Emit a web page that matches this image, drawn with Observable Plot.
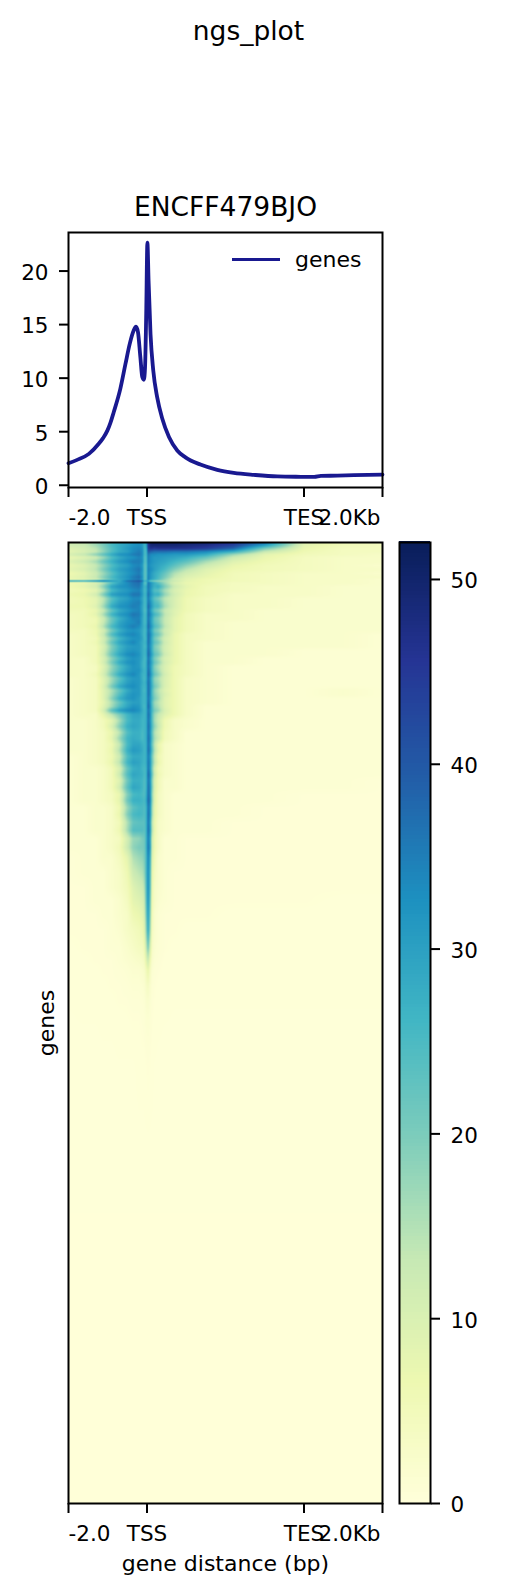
<!DOCTYPE html>
<html>
<head>
<meta charset="utf-8">
<script src="https://cdn.jsdelivr.net/npm/d3@7"></script>
<script src="https://cdn.jsdelivr.net/npm/@observablehq/plot@0.6"></script>
<style>
html,body{margin:0;padding:0;background:#fff;}
#page{position:relative;width:529px;height:1594px;overflow:hidden;font-family:"DejaVu Sans",sans-serif;color:#000;}
#page>div{position:absolute;}
svg{display:block;overflow:visible;}
</style>
</head>
<body>
<div id="page"></div>
<script>
// Profile panel
const profileX = [-2,-1.78,-1.48,-1.23,-1.12,-1.01,-0.93,-0.85,-0.68,-0.55,-0.44,-0.34,-0.28,-0.23,-0.17,-0.12,-0.08,-0.05,-0.02,0.01,0.04,0.09,0.16,0.26,0.39,0.56,0.77,0.98,1.36,1.79,2.21,2.72,3.32,3.92,4.26,4.43,4.85,5.27,6];
const profileY = [2.06,2.37,2.93,3.87,4.4,5.1,5.85,6.8,9.0,11.3,13.2,14.45,14.8,14.3,12,10.1,9.85,11,16,22.65,19.1,14.1,10.7,8.2,6.2,4.5,3.25,2.6,1.93,1.44,1.16,0.97,0.82,0.79,0.78,0.87,0.9,0.95,1.0];
const profileTicks = [0,5,10,15,20];
const colorbarTicks = [0,10,20,30,40,50];
const tickTSS = 0, tickTES = 4, tickStart = -2, tickEnd = 6;

// Colour map
const colorStops = [0,6.5,13,19.5,26,32.5,39,45.5,52];
const colorRange = ["#ffffd9","#edf8b1","#c7e9b4","#7fcdbb","#41b6c4","#1d91c0","#225ea8","#253494","#081d58"];

// Heatmap: columns in kb from the TSS, rows by gene rank
const heatCols = [-2,-1.6,-1.3,-1.1,-0.9,-0.7,-0.5,-0.35,-0.2,-0.115,-0.065,-0.015,0.03,0.08,0.13,0.19,0.29,0.45,0.7,1,1.5,2.2,3,4,5,6];
const heatRowRanks = [0,3,6,9,12,15,19,23,27,31,35,36.8,38.5,40.2,44,48,52,56,60,64,68,72,76,80,84,88,92,96,100,104,108,112,116,120,124,128,132,136,140,144,148,152,156,160,164,168,172,178,184,190,196,202,208,214,220,226,232,238,245,252,258,265,272,280,288,296,305,315,330,345,358,372,388,405,418,428,443,458,473,488,505,525,600,961];
const heatRows = [
[12,13,17,21,25,28,30,32,33,32,27,30,46,49,50,50,50,50,50,50,49,46,36,9,5,4],
[11,12,16,20,25,28,30,32,33,31,26,29,45,48,49,49,49,49,49,48,47,43,30,8,5,4],
[9,11,14,19,24,28,31,33,34,32,25,27,44,46,46,45,46,46,46,46,44,38,20,7,4,4],
[8,10,13,18,24,28,30,33,35,33,25,26,40,39,38,37,37,37,36,36,34,28,13,6,4,4],
[10,13,18,23,28,32,33,35,36,33,25,26,36,34,33,33,32,32,31,31,28,17,8,5,4,3],
[7,9,12,17,24,28,31,32,34,32,24,25,35,33,32,31,31,30,29,27,22,12,7,4,3,3],
[9,12,16,22,27,31,33,35,35,33,24,25,35,33,32,31,30,29,26,23,16,9,6,4,3,3],
[7,9,13,18,24,28,30,33,34,31,23,24,34,32,31,30,29,27,23,18,12,7,5,4,3,2],
[8,10,14,20,26,30,32,34,36,32,23,24,35,33,32,30,28,25,19,14,9,6,5,4,3,3],
[6,8,12,17,23,28,31,33,35,31,23,24,34,32,30,28,26,22,15,11,8,5,4,3,3,2],
[7,9,13,19,25,29,32,35,37,32,23,24,35,32,30,28,25,20,13,9,7,5,4,3,3,3],
[6,8,11,17,23,28,31,34,35,31,23,24,35,31,29,27,24,18,11,8,6,5,4,3,3,2],
[28,26,30,33,30,28,36,38,40,36,26,28,30,24,22,20,18,16,12,8,6,5,4,3,3,2],
[6,7,10,15,23,29,33,36,37,32,23,24,36,33,30,27,23,17,10,7,6,4,4,3,3,2],
[6,8,11,19,29,32,33,35,36,31,26,28,36,33,30,27,28,20,12,8,5,4,3,3,2,2],
[5,6,8,15,25,29,31,33,34,30,25,27,35,32,28,24,23,16,10,7,5,4,3,3,2,2],
[6,7,11,20,30,32,33,36,36,31,26,28,37,33,30,27,27,18,11,7,5,3,3,3,2,2],
[5,6,8,14,23,28,30,33,33,29,25,27,35,31,27,23,20,14,10,6,4,3,3,2,2,2],
[5,6,8,15,25,30,32,34,35,30,25,27,36,33,29,25,23,15,10,6,4,3,3,2,2,2],
[6,6,9,17,28,32,33,35,34,29,25,27,38,34,30,26,25,16,10,6,4,3,3,2,2,2],
[5,5,7,13,22,28,31,33,34,29,24,26,36,32,27,22,19,13,9,6,4,3,2,2,2,2],
[4,5,8,16,26,31,33,36,35,30,25,27,37,34,30,26,23,14,9,5,3,3,2,2,2,2],
[4,5,6,12,21,27,31,34,34,29,25,27,36,32,28,22,19,13,8,5,3,3,2,2,2,2],
[4,5,6,13,22,29,32,33,35,29,25,27,37,33,28,23,20,13,8,5,3,2,2,2,2,2],
[4,5,7,15,25,30,33,35,33,29,26,28,38,34,30,25,22,14,8,5,3,2,2,2,2,2],
[4,4,6,11,20,27,31,32,31,28,25,27,36,32,27,21,18,12,8,5,3,2,2,2,2,2],
[3,4,6,13,24,30,33,34,32,28,25,28,37,34,29,24,21,13,7,4,3,2,2,2,2,1],
[3,4,5,11,19,26,30,32,32,29,25,27,37,33,27,21,17,11,7,4,3,2,2,2,2,1],
[3,4,6,12,22,29,32,34,31,28,26,28,37,33,28,23,20,12,7,4,2,2,2,2,2,1],
[3,4,5,10,19,26,30,31,31,28,25,27,36,32,27,20,17,11,7,4,2,2,2,2,2,1],
[3,4,5,11,20,27,31,32,31,28,26,28,37,33,27,21,18,11,7,4,2,2,2,1,1,1],
[3,4,5,12,22,29,33,34,32,28,26,28,38,34,29,23,20,12,7,4,2,2,2,1,1,1],
[3,3,5,10,18,25,30,32,31,28,25,27,36,32,26,20,16,10,7,4,2,2,1,1,1,1],
[3,3,5,11,20,28,32,33,31,27,25,28,37,33,28,22,18,11,7,4,2,2,1,1,1,1],
[3,3,4,9,17,24,29,32,31,27,25,28,36,32,26,19,15,10,6,4,2,1,1,1,1,1],
[3,3,4,10,18,25,30,32,32,28,26,28,37,33,26,20,16,10,6,4,2,1,1,1,1,1],
[3,3,5,11,20,28,32,34,31,27,26,28,38,34,28,22,18,11,6,4,2,1,1,1,1,1],
[2,3,4,9,16,23,29,31,31,27,25,28,36,32,25,18,15,10,6,3,2,1,1,1,1,1],
[2,3,4,9,17,25,30,32,31,28,26,29,37,33,26,19,16,10,6,3,2,1,1,1,1,1],
[2,3,4,10,20,28,32,33,31,27,26,28,37,33,27,21,17,10,6,3,2,1,1,1,1,1],
[2,3,4,9,15,22,28,31,31,27,25,28,37,33,25,18,14,9,6,3,2,1,1,1,2,1],
[2,3,4,9,16,24,30,32,31,27,26,28,37,33,25,19,15,10,6,3,2,1,1,1,2,1],
[2,3,4,9,18,27,31,32,30,27,26,28,36,32,26,20,16,9,6,3,2,1,1,1,1,1],
[2,3,4,8,15,22,28,30,30,27,26,28,37,32,24,17,14,9,6,3,2,1,1,1,1,1],
[2,3,4,9,16,24,29,32,31,27,25,28,38,33,25,18,15,9,6,3,1,1,1,1,1,1],
[2,3,4,11,23,30,33,34,32,28,26,28,36,32,26,20,17,10,6,3,1,1,1,1,1,1],
[2,3,3,8,14,20,26,29,29,27,26,28,37,33,24,17,13,9,6,3,1,1,1,1,1,1],
[2,2,3,5,8,16,25,28,28,26,26,28,36,32,24,16,12,6,3,2,1,1,1,1,1,1],
[2,2,3,5,10,19,27,29,28,26,26,28,37,33,25,18,13,6,3,2,1,1,1,1,1,1],
[2,2,3,4,7,14,24,27,27,25,26,28,36,32,23,15,11,5,3,1,1,1,1,1,1,1],
[2,2,3,4,8,17,26,28,27,25,26,28,37,33,24,16,12,5,3,1,1,1,1,1,1,1],
[2,2,3,4,6,13,25,29,29,27,26,28,36,32,22,14,7,3,2,1,1,1,1,1,1,1],
[2,2,3,4,7,15,27,31,30,28,26,28,37,33,24,15,8,3,2,1,1,1,1,1,1,1],
[1,2,3,4,6,12,24,28,28,27,26,28,35,31,21,13,6,3,2,1,1,1,1,1,1,1],
[1,2,3,4,7,14,26,30,29,27,26,28,36,32,22,14,7,3,2,1,1,1,1,1,1,1],
[1,2,2,3,5,10,22,27,28,26,25,27,36,31,20,11,5,3,2,1,1,1,1,1,1,1],
[1,2,2,3,5,12,24,29,28,27,25,27,38,33,22,12,6,3,2,1,1,1,1,1,1,1],
[1,2,2,3,5,9,21,27,27,26,24,27,36,32,19,10,5,2,2,1,1,1,1,1,1,.5],
[1,2,2,3,5,11,23,29,28,26,24,27,37,33,20,10,5,2,2,1,1,1,1,1,1,.5],
[1,2,2,3,4,7,19,25,26,25,24,28,37,33,18,9,4,2,1,1,1,1,1,.5,.5,.5],
[1,2,2,3,4,8,21,27,27,26,25,29,38,34,19,9,4,2,1,1,1,1,1,.5,.5,.5],
[1,1,2,2,3,6,17,23,25,25,24,27,36,32,17,8,4,2,1,1,1,1,.5,.5,.5,.5],
[1,1,2,2,3,7,19,25,26,25,24,27,37,32,17,8,4,2,1,1,1,1,.5,.5,.5,.5],
[1,1,2,2,3,5,15,22,23,23,23,27,36,30,14,7,3,2,1,1,1,.5,.5,.5,.5,.5],
[1,1,2,2,3,6,16,24,24,24,23,27,37,31,15,7,3,2,1,1,1,.5,.5,.5,.5,.5],
[1,1,1,2,3,4,11,17,18,20,21,27,35,29,12,6,3,1,1,.5,.5,.5,.5,.5,.5,.5],
[1,1,1,2,3,5,12,18,20,20,21,27,36,30,12,6,3,1,1,.5,.5,.5,.5,.5,.5,.5],
[.5,1,1,2,2,4,8,15,17,18,20,26,34,27,10,5,2,1,1,.5,.5,.5,.5,.5,.5,.5],
[.5,1,1,1,2,3,6,12,14,15,18,26,33,25,8,4,2,1,.5,.5,.5,.5,.5,.5,.5,.5],
[.5,.5,1,1,2,3,5,9,11,12,15,25,33,24,7,3,2,1,.5,.5,.5,.5,.5,.5,.5,.5],
[.5,.5,1,1,1,2,4,8,9,10,13,24,32,22,6,3,1.5,1,.5,.5,.5,.5,.5,.5,.3,.3],
[.5,.5,.5,1,1,2,3,6,7,8,11,22,30,20,5,2,1,.5,.5,.5,.5,.3,.3,.3,.3,.3],
[.5,.5,.5,.5,1,1.5,3,4,5,6,9,19,28,17,4,2,1,.5,.5,.3,.3,.3,.3,.3,.3,.3],
[.3,.5,.5,.5,1,1,2,3,4,4,6,14,20,11,3,1.5,1,.5,.3,.3,.3,.3,.3,.3,.3,.3],
[.3,.3,.5,.5,.5,1,1.5,2,2.5,3,4,9,12,6,2,1,.7,.3,.3,.3,.3,.3,.3,.3,.3,.3],
[.3,.3,.3,.5,.5,.7,1,1.5,1.5,2,2.5,5,7,3.5,1.2,.7,.5,.3,.3,.3,.3,.3,.3,.3,.3,.3],
[.3,.3,.3,.3,.5,.5,.7,1,1,1.2,1.5,3,3.5,2,.8,.5,.3,.3,.3,.3,.3,.3,.3,.3,.3,.3],
[.3,.3,.3,.3,.3,.5,.5,.7,.7,.8,1,1.8,2,1.3,.6,.4,.3,.3,.3,.3,.3,.3,.3,.3,.3,.3],
[.2,.3,.3,.3,.3,.3,.4,.5,.5,.6,.7,1.2,1.3,.9,.5,.3,.3,.3,.2,.2,.2,.2,.2,.2,.2,.2],
[.2,.2,.2,.3,.3,.3,.3,.4,.4,.5,.6,.9,1,.7,.4,.3,.3,.2,.2,.2,.2,.2,.2,.2,.2,.2],
[.2,.2,.2,.2,.2,.3,.3,.3,.3,.4,.4,.6,.7,.5,.3,.3,.2,.2,.2,.2,.2,.2,.2,.2,.2,.2],
[.2,.2,.2,.2,.2,.2,.2,.2,.3,.3,.3,.4,.5,.4,.3,.2,.2,.2,.2,.2,.2,.2,.2,.2,.2,.2],
[.2,.2,.2,.2,.2,.2,.2,.2,.2,.2,.2,.2,.2,.2,.2,.2,.2,.2,.2,.2,.2,.2,.2,.2,.2,.2],
[.1,.1,.1,.1,.1,.1,.1,.1,.1,.1,.1,.1,.1,.1,.1,.1,.1,.1,.1,.1,.1,.1,.1,.1,.1,.1]
];
if (heatRows.length !== heatRowRanks.length) throw new Error("rows " + heatRows.length + " vs ranks " + heatRowRanks.length);
heatRows.forEach((r, i) => { if (r.length !== heatCols.length) throw new Error("row " + i + " has " + r.length); });

const font = "DejaVu Sans";
const tickFont = 21.5;
const page = document.getElementById("page");
function place(node, left, top) {
  const w = document.createElement("div");
  w.style.left = left + "px";
  w.style.top = top + "px";
  w.appendChild(node);
  page.appendChild(w);
}
const baseStyle = {fontFamily: font, fontSize: tickFont + "px", background: "transparent", color: "#000", overflow: "visible"};
function xAxes() {
  const common = {tickSize: 10, tickPadding: 12, strokeWidth: 2, strokeOpacity: 1, fontSize: tickFont, label: null};
  return [
    Plot.axisX({...common, ticks: [tickTSS], tickFormat: () => "TSS"}),
    Plot.axisX({...common, ticks: [tickTES], tickFormat: () => "TES"}),
    Plot.axisX({...common, ticks: [tickStart], tickFormat: () => "-2.0", textAnchor: "start"}),
    Plot.axisX({...common, ticks: [tickEnd], tickFormat: () => ""}),
    Plot.axisX({...common, ticks: [tickEnd], tickFormat: () => "2.0Kb", textAnchor: "end", dx: -2, strokeOpacity: 0})
  ];
}
function yAxes(options) {
  const common = {tickSize: 9, tickPadding: 11, strokeWidth: 2, fontSize: tickFont, label: null, ...options};
  return [
    Plot.axisY({...common, tickFormat: () => "", strokeOpacity: 1}),
    Plot.axisY({...common, dy: 2, strokeOpacity: 0})
  ];
}
const frameMark = Plot.frame({stroke: "#000", strokeWidth: 2, strokeOpacity: 1});

// Grid lookup that keeps the read rows and columns as thin streaks
function gridInterpolate(index, width, height, X, Y, V) {
  const nx = heatCols.length, ny = heatRowRanks.length;
  const I = Array.from(index);
  const xs = d3.range(nx).map(c => X[I[c]]);
  const ys = d3.range(ny).map(r => Y[I[r * nx]]);
  const W = new Float64Array(width * height);
  const bracket = (grid, t) => {
    const k = Math.max(0, Math.min(grid.length - 2, d3.bisectRight(grid, t) - 1));
    return [k, Math.max(0, Math.min(1, (t - grid[k]) / (grid[k + 1] - grid[k])))];
  };
  for (let j = 0; j < height; ++j) {
    const [r, fy] = bracket(ys, j + 0.5);
    for (let i = 0; i < width; ++i) {
      const [c, fx] = bracket(xs, i + 0.5);
      const v00 = V[I[r * nx + c]], v01 = V[I[r * nx + c + 1]];
      const v10 = V[I[(r + 1) * nx + c]], v11 = V[I[(r + 1) * nx + c + 1]];
      W[j * width + i] = (v00 * (1 - fx) + v01 * fx) * (1 - fy) + (v10 * (1 - fx) + v11 * fx) * fy;
    }
  }
  return W;
}

// Suptitle
const sup = document.createElement("div");
sup.textContent = "ngs_plot";
sup.style.cssText = "left:0;top:16px;width:497px;text-align:center;font-size:26.5px;line-height:30px;";
page.appendChild(sup);

// Profile
const profile = profileX.map((x, i) => ({x, y: profileY[i]}));
place(Plot.plot({
  width: 529, height: 360,
  marginTop: 52, marginBottom: 53, marginLeft: 68, marginRight: 147,
  style: baseStyle,
  x: {domain: [tickStart, tickEnd]},
  y: {domain: [-0.21, 23.6]},
  marks: [
    Plot.line(profile, {x: "x", y: "y", stroke: "#191990", strokeWidth: 3.8, curve: "monotone-x"}),
    frameMark,
    ...yAxes({ticks: profileTicks}),
    ...xAxes(),
    Plot.text(["ENCFF479BJO"], {frameAnchor: "top", dy: -35, lineAnchor: "top", fontSize: 26.5, text: d => d})
  ]
}), 0, 180);

// Legend
const legend = document.createElement("div");
legend.style.cssText = "left:232px;top:242px;width:160px;height:34px;";
legend.innerHTML = '<span style="position:absolute;left:0;top:15.5px;width:47.5px;height:3.8px;background:#191990"></span><span style="position:absolute;left:63px;top:3px;font-size:22px;line-height:30px">genes</span>';
page.appendChild(legend);

// Heatmap
const heatCells = heatRows.flatMap((row, r) => row.map((v, c) => ({x: heatCols[c], y: heatRowRanks[r], v})));
const colorScale = {type: "linear", domain: colorStops, range: colorRange, interpolate: "rgb", clamp: true};
place(Plot.plot({
  width: 529, height: 1064,
  marginTop: 12, marginBottom: 91, marginLeft: 68, marginRight: 147,
  style: baseStyle,
  x: {domain: [tickStart, tickEnd]},
  y: {domain: [0, 961], reverse: true, axis: null},
  color: colorScale,
  marks: [
    Plot.raster(heatCells, {x: "x", y: "y", fill: "v", interpolate: gridInterpolate}),
    frameMark,
    ...xAxes(),
    Plot.text(["gene distance (bp)"], {frameAnchor: "bottom", dy: 67, lineAnchor: "bottom", fontSize: 22, text: d => d}),
    Plot.text(["genes"], {frameAnchor: "left", textAnchor: "middle", dx: -22, rotate: -90, fontSize: 22, text: d => d})
  ]
}), 0, 530);

// Colorbar
const colorbarLevels = d3.range(0, 52, 52 / 256);
place(Plot.plot({
  width: 529, height: 1064,
  marginTop: 12, marginBottom: 91, marginLeft: 399, marginRight: 99,
  style: baseStyle,
  x: {domain: [0, 1], axis: null},
  y: {domain: [0, 52]},
  color: colorScale,
  marks: [
    Plot.rect(colorbarLevels, {x1: 0, x2: 1, y1: d => d, y2: d => d + 52 / 256 + 0.05, fill: d => d, shapeRendering: "crispEdges"}),
    frameMark,
    ...yAxes({anchor: "right", ticks: colorbarTicks})
  ]
}), 0, 530);
</script>
</body>
</html>
